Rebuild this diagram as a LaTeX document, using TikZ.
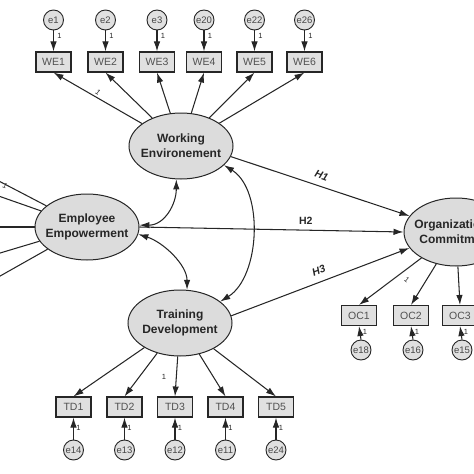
\documentclass[tikz,border=0pt]{standalone}
\usepackage{fontspec}
\setmainfont{Liberation Sans}
\usetikzlibrary{shapes.geometric,arrows.meta}
\definecolor{lfill}{HTML}{DCDCDC}
\definecolor{bfill}{HTML}{E0E0E0}
\definecolor{ink}{HTML}{262626}
\tikzset{
  latent/.style={ellipse,draw=ink,line width=1pt,fill=lfill,minimum width=104pt,minimum height=66pt,inner sep=0pt},
  lattext/.style={align=center,font=\bfseries\fontsize{12}{15}\selectfont,text=ink,inner sep=0pt},
  obs/.style={rectangle,draw=ink,line width=1.1pt,fill=bfill,minimum width=35pt,minimum height=20pt,inner sep=0pt,font=\fontsize{10.5}{11}\selectfont,text=ink!80},
  err/.style={circle,draw=ink,line width=0.9pt,fill=bfill,minimum size=20pt,inner sep=0pt,font=\fontsize{9.5}{10}\selectfont,text=ink!85},
  arr/.style={draw=ink,line width=1.05pt,-{Latex[length=10pt,width=6.5pt]}},
  darr/.style={draw=ink,line width=1.05pt,{Latex[length=10pt,width=6.5pt]}-{Latex[length=10pt,width=6.5pt]}},
  one/.style={font=\fontsize{7.5}{8}\selectfont,text=ink,inner sep=0pt},
  hlab/.style={font=\bfseries\fontsize{10.5}{11}\selectfont,text=ink,inner sep=0pt}
}
\begin{document}
\begin{tikzpicture}[x=1pt,y=-1pt]
\useasboundingbox (0,0) rectangle (474,474);
\clip (0,0) rectangle (474,474);

% latent variables
\node[latent,label={[lattext]center:Working\\Environement}] (WE) at (181,146) {};
\node[latent,label={[lattext]center:Employee\\Empowerment}] (EE) at (87,227) {};
\node[latent,label={[lattext]center:Training\\Development}] (TD) at (180,323) {};
\node[latent,minimum height=68pt,label={[lattext]center:Organizational\\Commitment}] (OC) at (456,232) {};

% WE indicators
\foreach \n/\x/\e in {1/53.5/e1,2/105.5/e2,3/157/e3,4/204/e20,5/254.5/e22,6/304.5/e26}{
  \node[obs] (we\n) at (\x,62) {WE\n};
  \node[err] (ew\n) at (\x,20) {\e};
  \draw[arr] (ew\n.south) -- (we\n.north);
  \node[one] (onew\n) at (\x+6,36) {1};
  \draw[arr] (WE) -- (we\n.south);
}
\node[one,rotate=-30] (lw1) at (98,92) {\textit{1}};

% TD indicators
\foreach \n/\x/\e in {1/73.5/e14,2/124.5/e13,3/175/e12,4/225.5/e11,5/276/e24}{
  \node[obs] (td\n) at (\x,407) {TD\n};
  \node[err] (et\n) at (\x,450) {\e};
  \draw[arr] (et\n.north) -- (td\n.south);
  \node[one] (onet\n) at (\x+5,428) {1};
  \draw[arr] (TD) -- (td\n.north);
}
\node[one] (lt3) at (164,377) {1};

% OC indicators
\foreach \n/\x/\e in {1/359/e18,2/411/e16,3/460/e15}{
  \node[obs] (oc\n) at (\x,315.5) {OC\n};
  \node[err] (eo\n) at (\x+2,350) {\e};
  \draw[arr] (eo\n.north) -- (oc\n.south);
  \node[one] (oneo\n) at (\x+6,332) {1};
  \draw[arr] (OC) -- (oc\n.north);
}
\node[one,rotate=-40] (lo2) at (407,280) {1};

% EE indicators (off the left edge)
\coordinate (ee1) at (-30,166);
\coordinate (ee2) at (-30,186);
\coordinate (ee3) at (-30,227);
\coordinate (ee4) at (-30,262);
\coordinate (ee5) at (-30,293);
\foreach \n in {1,...,5}{ \draw[arr] (EE) -- (ee\n); }
\node[one,rotate=-20] (le1) at (5,186) {\textit{1}};

% structural paths
\draw[arr] (WE.-12) -- (OC.161) node[hlab,pos=0.5,above=7pt,rotate=-20] {\textit{H1}};
\draw[arr] (EE.east) -- (OC.west) node[hlab,pos=0.63,above=5pt] {H2};
\draw[arr] (TD.8) -- (OC.199) node[hlab,pos=0.5,above=7pt,rotate=22] {\textit{H3}};

% covariances
\draw[darr] (WE.262) .. controls +(0,25) and +(25,0) .. (EE.2);
\draw[darr] (EE.-8) .. controls +(25,8) and +(0,-25) .. (TD.78);
\draw[darr] (WE.-24) .. controls +(40,25) and +(40,-25) .. (TD.28);
\end{tikzpicture}
\end{document}
